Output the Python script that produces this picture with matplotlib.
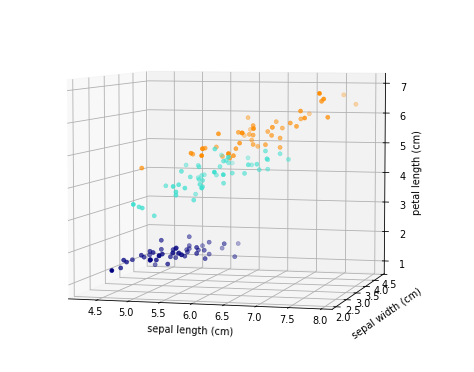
import matplotlib
matplotlib.use("Agg")
import matplotlib.pyplot as plt

setosa_sl = [5.1,4.9,4.7,4.6,5.0,5.4,4.6,5.0,4.4,4.9,5.4,4.8,4.8,4.3,5.8,5.7,5.4,5.1,5.7,5.1,5.4,5.1,4.6,5.1,4.8,5.0,5.0,5.2,5.2,4.7,4.8,5.4,5.2,5.5,4.9,5.0,5.5,4.9,4.4,5.1,5.0,4.5,4.4,5.0,5.1,4.8,5.1,4.6,5.3,5.0]
setosa_sw = [3.5,3.0,3.2,3.1,3.6,3.9,3.4,3.4,2.9,3.1,3.7,3.4,3.0,3.0,4.0,4.4,3.9,3.5,3.8,3.8,3.4,3.7,3.6,3.3,3.4,3.0,3.4,3.5,3.4,3.2,3.1,3.4,4.1,4.2,3.1,3.2,3.5,3.6,3.0,3.4,3.5,2.3,3.2,3.5,3.8,3.0,3.8,3.2,3.7,3.3]
setosa_pl = [1.4,1.4,1.3,1.5,1.4,1.7,1.4,1.5,1.4,1.5,1.5,1.6,1.4,1.1,1.2,1.5,1.3,1.4,1.7,1.5,1.7,1.5,1.0,1.7,1.9,1.6,1.6,1.5,1.4,1.6,1.6,1.5,1.5,1.4,1.5,1.2,1.3,1.4,1.3,1.5,1.3,1.3,1.3,1.6,1.9,1.4,1.6,1.4,1.5,1.4]
versicolor_sl = [7.0,6.4,6.9,5.5,6.5,5.7,6.3,4.9,6.6,5.2,5.0,5.9,6.0,6.1,5.6,6.7,5.6,5.8,6.2,5.6,5.9,6.1,6.3,6.1,6.4,6.6,6.8,6.7,6.0,5.7,5.5,5.5,5.8,6.0,5.4,6.0,6.7,6.3,5.6,5.5,5.5,6.1,5.8,5.0,5.6,5.7,5.7,6.2,5.1,5.7]
versicolor_sw = [3.2,3.2,3.1,2.3,2.8,2.8,3.3,2.4,2.9,2.7,2.0,3.0,2.2,2.9,2.9,3.1,3.0,2.7,2.2,2.5,3.2,2.8,2.5,2.8,2.9,3.0,2.8,3.0,2.9,2.6,2.4,2.4,2.7,2.7,3.0,3.4,3.1,2.3,3.0,2.5,2.6,3.0,2.6,2.3,2.7,3.0,2.9,2.9,2.5,2.8]
versicolor_pl = [4.7,4.5,4.9,4.0,4.6,4.5,4.7,3.3,4.6,3.9,3.5,4.2,4.0,4.7,3.6,4.4,4.5,4.1,4.5,3.9,4.8,4.0,4.9,4.7,4.3,4.4,4.8,5.0,4.5,3.5,3.8,3.7,3.9,5.1,4.5,4.5,4.7,4.4,4.1,4.0,4.4,4.6,4.0,3.3,4.2,4.2,4.2,4.3,3.0,4.1]
virginica_sl = [6.3,5.8,7.1,6.3,6.5,7.6,4.9,7.3,6.7,7.2,6.5,6.4,6.8,5.7,5.8,6.4,6.5,7.7,7.7,6.0,6.9,5.6,7.7,6.3,6.7,7.2,6.2,6.1,6.4,7.2,7.4,7.9,6.4,6.3,6.1,7.7,6.3,6.4,6.0,6.9,6.7,6.9,5.8,6.8,6.7,6.7,6.3,6.5,6.2,5.9]
virginica_sw = [3.3,2.7,3.0,2.9,3.0,3.0,2.5,2.9,2.5,3.6,3.2,2.7,3.0,2.5,2.8,3.2,3.0,3.8,2.6,2.2,3.2,2.8,2.8,2.7,3.3,3.2,2.8,3.0,2.8,3.0,2.8,3.8,2.8,2.8,2.6,3.0,3.4,3.1,3.0,3.1,3.1,3.1,2.7,3.2,3.3,3.0,2.5,3.0,3.4,3.0]
virginica_pl = [6.0,5.1,5.9,5.6,5.8,6.6,4.5,6.3,5.8,6.1,5.1,5.3,5.5,5.0,5.1,5.3,5.5,6.7,6.9,5.0,5.7,4.9,6.7,4.9,5.7,6.0,4.8,4.9,5.6,5.8,6.1,6.4,5.6,5.1,5.6,6.1,5.6,5.5,4.8,5.4,5.6,5.1,5.1,5.9,5.7,5.2,5.0,5.2,5.4,5.1]
colors = ["navy", "turquoise", "darkorange"]

plt.rcParams["font.size"] = 9.5
fig = plt.figure(figsize=(474/74, 372/74), dpi=74)
ax = fig.add_axes([-0.018, -0.0015, 1.0, 1.0], projection="3d")
ax.set_box_aspect((4, 4, 3.25), zoom=1.10)
for c, x, y, z in [(colors[0], setosa_sl, setosa_sw, setosa_pl),
                   (colors[1], versicolor_sl, versicolor_sw, versicolor_pl),
                   (colors[2], virginica_sl, virginica_sw, virginica_pl)]:
    ax.scatter(x, y, z, c=c, s=16, linewidths=0.5)
ax.set_xlabel("sepal length (cm)", labelpad=-2)
ax.set_ylabel("sepal width (cm)", labelpad=-1)
ax.set_zlabel("petal length (cm)", labelpad=0)
ax.tick_params(axis="x", pad=-3)
ax.tick_params(axis="y", pad=-3)
ax.view_init(elev=5, azim=-75)
fig.savefig("out.png", dpi=74)
